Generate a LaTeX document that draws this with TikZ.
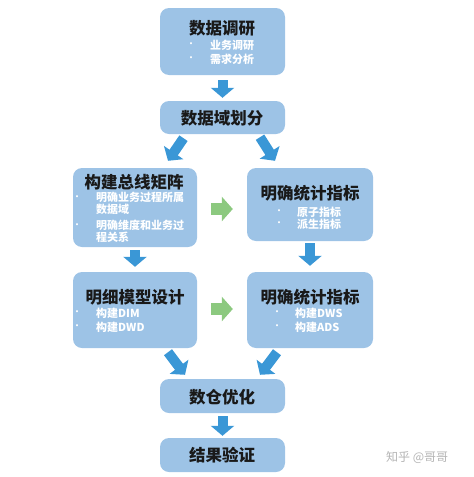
\documentclass[tikz,border=0pt]{standalone}
\usepackage{fontspec}
\newfontfamily\cjk{Noto Sans CJK SC}
\newfontfamily\cjkh{Noto Sans CJK SC Black}
\usetikzlibrary{arrows.meta,calc}
\definecolor{boxblue}{HTML}{9DC3E6}
\definecolor{arrowblue}{HTML}{3A97D6}
\definecolor{arrowgreen}{HTML}{8CC97F}
\definecolor{wmgray}{HTML}{B4B4B4}
\begin{document}
\begin{tikzpicture}[x=1pt,y=-1pt,
  box/.style={rounded corners=9pt, fill=boxblue, draw=none, inner sep=0pt},
  title/.style={font=\cjkh\fontsize{16.5}{18}\selectfont, text=black!90, inner sep=0pt},
  item/.style={font=\cjk\bfseries\fontsize{11}{12}\selectfont, text=white, inner sep=0pt, anchor=west, align=left},
  bul/.style={font=\cjk\fontsize{10}{11}\selectfont, text=white, inner sep=0pt},
  barrow/.style={draw=arrowblue, line width=10pt, -{Triangle[width=23pt,length=10pt]}},
  garrow/.style={draw=arrowgreen, line width=12pt, -{Triangle[width=24pt,length=11pt]}}
]
\useasboundingbox (0,0) rectangle (474,477);
% boxes
\node[box, minimum width=125, minimum height=67] (b1) at (222.5,41.5) {};
\node[box, minimum width=125, minimum height=33] (b2) at (222.5,117.5) {};
\node[box, minimum width=124, minimum height=79] (b3) at (135,207.5) {};
\node[box, minimum width=126, minimum height=73] (b4) at (310,204.5) {};
\node[box, minimum width=124, minimum height=76] (b5) at (135,310) {};
\node[box, minimum width=126, minimum height=76] (b6) at (310,310) {};
\node[box, minimum width=125, minimum height=34] (b7) at (222.5,396) {};
\node[box, minimum width=125, minimum height=34] (b8) at (222.5,455) {};
% texts
\node[title] (t1) at (222,28) {数据调研};
\node[bul] (u1a) at (191,45) {•};
\node[bul] (u1b) at (191,59) {•};
\node[item] (i1a) at (210,45) {业务调研};
\node[item] (i1b) at (210,59) {需求分析};
\node[title] (t2) at (222,118) {数据域划分};
\node[title] (t3) at (134,182) {构建总线矩阵};
\node[bul] (u3a) at (77,198) {•};
\node[bul] (u3b) at (77,226) {•};
\node[item, anchor=north west] (i3a) at (96,192) {明确业务过程所属\\数据域};
\node[item, anchor=north west] (i3b) at (96,220) {明确维度和业务过\\程关系};
\node[title] (t4) at (310,193) {明确统计指标};
\node[bul] (u4a) at (279,212) {•};
\node[bul] (u4b) at (279,224) {•};
\node[item] (i4a) at (297,212) {原子指标};
\node[item] (i4b) at (297,224) {派生指标};
\node[title] (t5) at (135,297) {明细模型设计};
\node[bul] (u5a) at (77,313) {•};
\node[bul] (u5b) at (77,327) {•};
\node[item] (i5a) at (96,313) {构建DIM};
\node[item] (i5b) at (96,327) {构建DWD};
\node[title] (t6) at (310,297) {明确统计指标};
\node[bul] (u6a) at (277,313) {•};
\node[bul] (u6b) at (277,327) {•};
\node[item] (i6a) at (295,313) {构建DWS};
\node[item] (i6b) at (295,327) {构建ADS};
\node[title] (t7) at (222,397) {数仓优化};
\node[title] (t8) at (222,455) {结果验证};
\node[font=\cjk\fontsize{12}{13}\selectfont, text=wmgray, anchor=west, inner sep=0pt] (wm) at (386,457) {知乎 @哥哥};
% arrows
\draw[barrow] ([yshift=-5pt]b1.south) -- ([yshift=3pt]b2.north);
\draw[barrow] ([xshift=-39pt,yshift=-4pt]b2.south) -- ([xshift=33pt,yshift=7pt]b3.north);
\draw[barrow] ([xshift=37.5pt,yshift=-3pt]b2.south) -- ([xshift=-35pt,yshift=7pt]b4.north);
\draw[garrow] ([xshift=14pt,yshift=-1.5pt]b3.east) -- ([xshift=-14pt,yshift=-4.5pt]b4.west);
\draw[garrow] ([xshift=14pt,yshift=1pt]b5.east) -- ([xshift=-14pt,yshift=1pt]b6.west);
\draw[barrow] ([yshift=-3pt]b3.south) -- ([yshift=5pt]b5.north);
\draw[barrow] ([yshift=-2pt]b4.south) -- ([yshift=6pt]b6.north);
\draw[barrow] ([xshift=33pt,yshift=-4pt]b5.south) -- ([xshift=-37.5pt,yshift=4pt]b7.north);
\draw[barrow] ([xshift=-33pt,yshift=-4pt]b6.south) -- ([xshift=37.5pt,yshift=4pt]b7.north);
\draw[barrow] ([yshift=-3pt]b7.south) -- ([yshift=2pt]b8.north);
\end{tikzpicture}
\end{document}
